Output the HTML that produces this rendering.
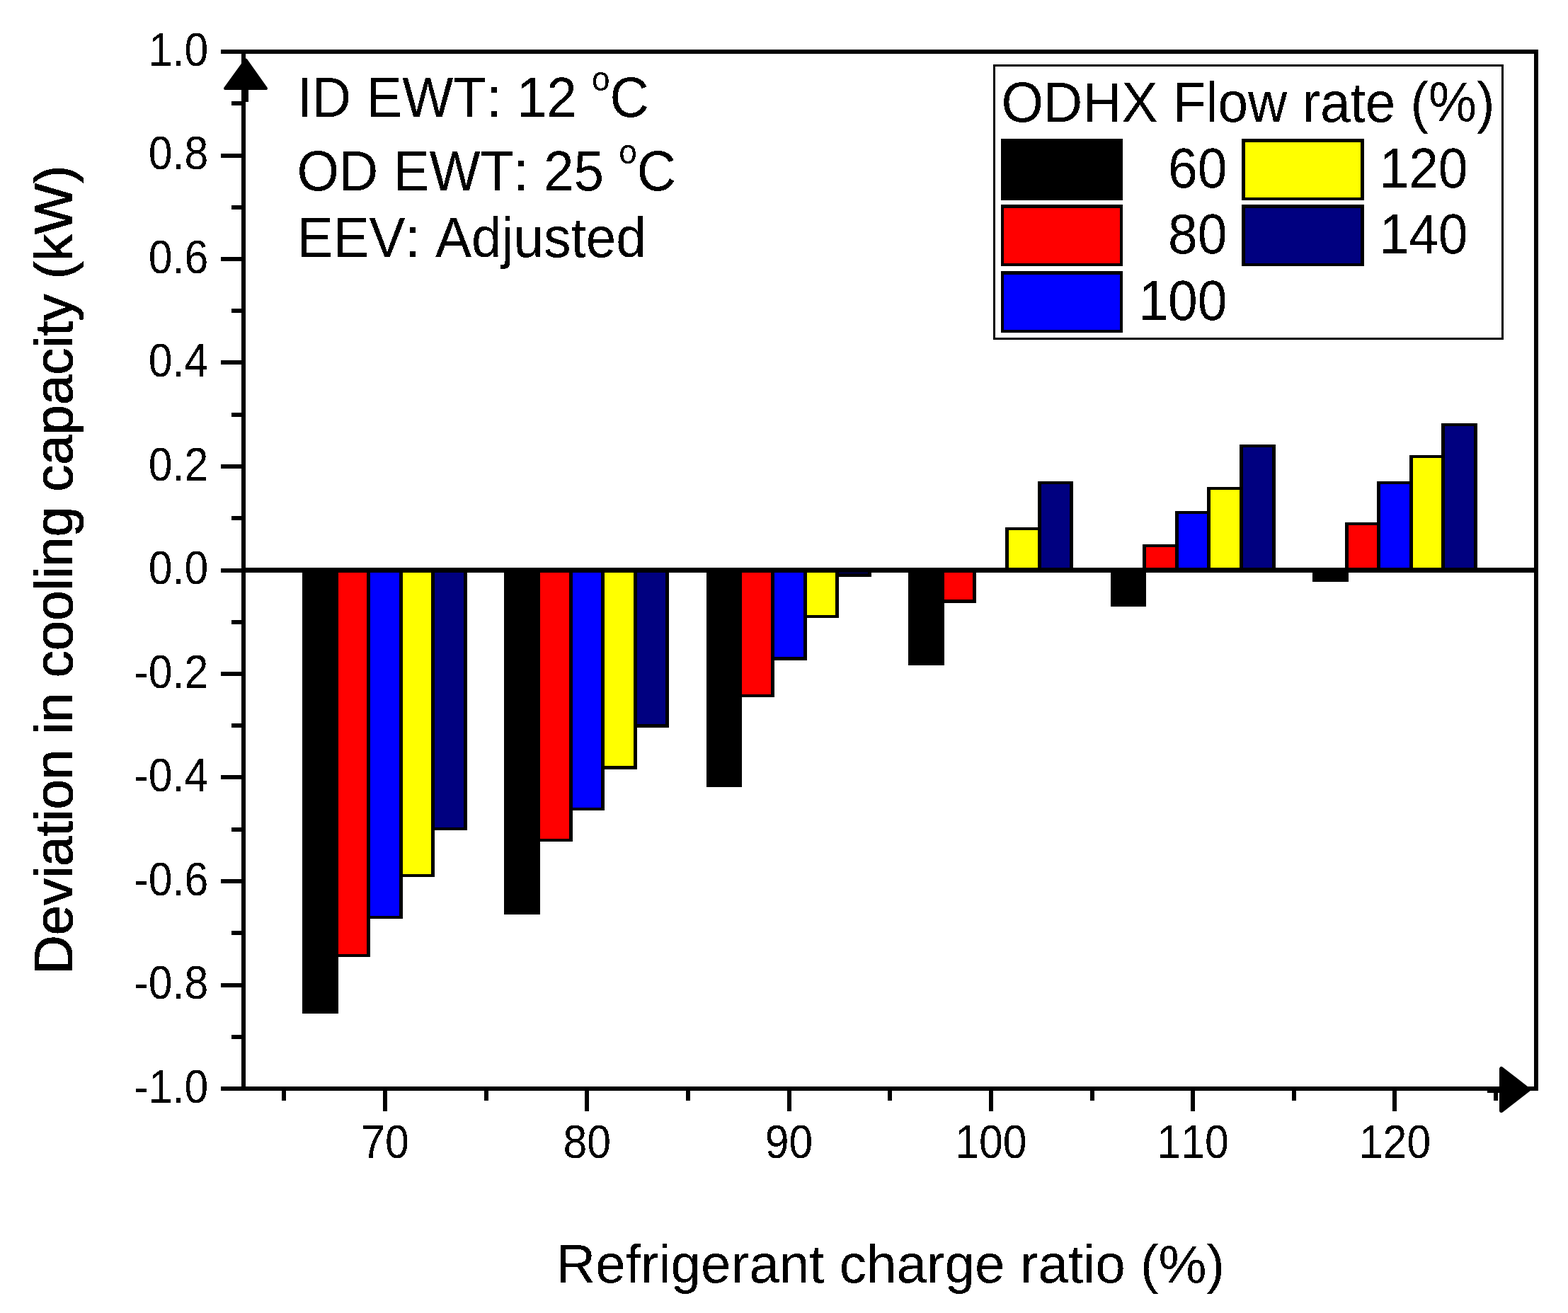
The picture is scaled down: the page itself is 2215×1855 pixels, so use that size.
<!DOCTYPE html>
<html lang="en"><head><meta charset="utf-8"><title>Deviation in cooling capacity vs refrigerant charge ratio</title>
<style>
html,body{margin:0;padding:0;background:#fff;}
body{width:2215px;height:1855px;overflow:hidden;}
svg{display:block;}
text{font-family:"Liberation Sans",Arial,Helvetica,sans-serif;fill:#000;font-kerning:none;font-variant-ligatures:none;white-space:pre;}
.big{font-size:76.5px;}
.tick{font-size:62px;}
.ln{fill:#000;shape-rendering:crispEdges;}
.bar{stroke:#000;stroke-width:5;shape-rendering:crispEdges;}
</style></head><body>
<svg width="2215" height="1855" viewBox="0 0 2215 1855" role="img" aria-label="Bar chart: deviation in cooling capacity versus refrigerant charge ratio">
<rect x="0" y="0" width="2215" height="1855" fill="#ffffff"/>
<defs><filter id="alias" x="-5%" y="-20%" width="110%" height="140%" color-interpolation-filters="sRGB"><feComponentTransfer><feFuncA type="discrete" tableValues="0 1"/></feComponentTransfer></filter></defs>
<g id="bars" shape-rendering="crispEdges">
<rect x="427.0" y="802.0" width="50.6" height="630.0" fill="#000"/>
<rect x="472.6" y="802.0" width="50.6" height="550.0" fill="#000"/>
<rect x="477.6" y="808.5" width="40.6" height="539.1" fill="#ff0000"/>
<rect x="518.2" y="802.0" width="50.6" height="496.0" fill="#000"/>
<rect x="523.2" y="808.5" width="40.6" height="485.1" fill="#0000ff"/>
<rect x="563.8" y="802.0" width="50.6" height="437.0" fill="#000"/>
<rect x="568.8" y="808.5" width="40.6" height="426.1" fill="#ffff00"/>
<rect x="609.4" y="802.0" width="50.6" height="371.0" fill="#000"/>
<rect x="614.4" y="808.5" width="40.6" height="360.1" fill="#000080"/>
<rect x="712.4" y="802.0" width="50.6" height="490.0" fill="#000"/>
<rect x="758.0" y="802.0" width="50.6" height="387.0" fill="#000"/>
<rect x="763.0" y="808.5" width="40.6" height="376.1" fill="#ff0000"/>
<rect x="803.6" y="802.0" width="50.6" height="343.0" fill="#000"/>
<rect x="808.6" y="808.5" width="40.6" height="332.1" fill="#0000ff"/>
<rect x="849.2" y="802.0" width="50.6" height="284.5" fill="#000"/>
<rect x="854.2" y="808.5" width="40.6" height="273.6" fill="#ffff00"/>
<rect x="894.8" y="802.0" width="50.6" height="225.5" fill="#000"/>
<rect x="899.8" y="808.5" width="40.6" height="214.6" fill="#000080"/>
<rect x="997.8" y="802.0" width="50.6" height="310.0" fill="#000"/>
<rect x="1043.4" y="802.0" width="50.6" height="183.0" fill="#000"/>
<rect x="1048.4" y="808.5" width="40.6" height="172.1" fill="#ff0000"/>
<rect x="1089.0" y="802.0" width="50.6" height="130.5" fill="#000"/>
<rect x="1094.0" y="808.5" width="40.6" height="119.6" fill="#0000ff"/>
<rect x="1134.6" y="802.0" width="50.6" height="71.0" fill="#000"/>
<rect x="1139.6" y="808.5" width="40.6" height="60.1" fill="#ffff00"/>
<rect x="1180.2" y="802.0" width="50.6" height="12.5" fill="#000"/>
<rect x="1185.2" y="808.5" width="40.6" height="1.6" fill="#000080"/>
<rect x="1283.2" y="802.0" width="50.6" height="138.0" fill="#000"/>
<rect x="1328.8" y="802.0" width="50.6" height="49.5" fill="#000"/>
<rect x="1333.8" y="808.5" width="40.6" height="38.6" fill="#ff0000"/>
<rect x="1420.0" y="745.0" width="50.6" height="63.5" fill="#000"/>
<rect x="1425.0" y="749.4" width="40.6" height="52.6" fill="#ffff00"/>
<rect x="1465.6" y="680.0" width="50.6" height="128.5" fill="#000"/>
<rect x="1470.6" y="684.4" width="40.6" height="117.6" fill="#000080"/>
<rect x="1568.6" y="802.0" width="50.6" height="54.5" fill="#000"/>
<rect x="1614.2" y="768.5" width="50.6" height="40.0" fill="#000"/>
<rect x="1619.2" y="772.9" width="40.6" height="29.1" fill="#ff0000"/>
<rect x="1659.8" y="721.5" width="50.6" height="87.0" fill="#000"/>
<rect x="1664.8" y="725.9" width="40.6" height="76.1" fill="#0000ff"/>
<rect x="1705.4" y="687.5" width="50.6" height="121.0" fill="#000"/>
<rect x="1710.4" y="691.9" width="40.6" height="110.1" fill="#ffff00"/>
<rect x="1751.0" y="628.0" width="50.6" height="180.5" fill="#000"/>
<rect x="1756.0" y="632.4" width="40.6" height="169.6" fill="#000080"/>
<rect x="1854.0" y="802.0" width="50.6" height="19.5" fill="#000"/>
<rect x="1899.6" y="738.0" width="50.6" height="70.5" fill="#000"/>
<rect x="1904.6" y="742.4" width="40.6" height="59.6" fill="#ff0000"/>
<rect x="1945.2" y="679.5" width="50.6" height="129.0" fill="#000"/>
<rect x="1950.2" y="683.9" width="40.6" height="118.1" fill="#0000ff"/>
<rect x="1990.8" y="642.5" width="50.6" height="166.0" fill="#000"/>
<rect x="1995.8" y="646.9" width="40.6" height="155.1" fill="#ffff00"/>
<rect x="2036.4" y="598.0" width="50.6" height="210.5" fill="#000"/>
<rect x="2041.4" y="602.4" width="40.6" height="199.6" fill="#000080"/>
</g>
<g id="axes">
<rect class="ln" x="312" y="70" width="1861" height="6"/>
<rect class="ln" x="312" y="1535" width="1861" height="6"/>
<rect class="ln" x="341" y="70" width="6" height="1471"/>
<rect class="ln" x="2167" y="70" width="6" height="1471"/>
<rect class="ln" x="344" y="802" width="1826" height="6.5"/>
<rect class="ln" x="312" y="217" width="32" height="6"/>
<rect class="ln" x="312" y="363" width="32" height="6"/>
<rect class="ln" x="312" y="509" width="32" height="6"/>
<rect class="ln" x="312" y="656" width="32" height="6"/>
<rect class="ln" x="312" y="803" width="32" height="6"/>
<rect class="ln" x="312" y="949" width="32" height="6"/>
<rect class="ln" x="312" y="1095" width="32" height="6"/>
<rect class="ln" x="312" y="1242" width="32" height="6"/>
<rect class="ln" x="312" y="1389" width="32" height="6"/>
<rect class="ln" x="327" y="143" width="17" height="6"/>
<rect class="ln" x="327" y="290" width="17" height="6"/>
<rect class="ln" x="327" y="436" width="17" height="6"/>
<rect class="ln" x="327" y="583" width="17" height="6"/>
<rect class="ln" x="327" y="729" width="17" height="6"/>
<rect class="ln" x="327" y="876" width="17" height="6"/>
<rect class="ln" x="327" y="1022" width="17" height="6"/>
<rect class="ln" x="327" y="1169" width="17" height="6"/>
<rect class="ln" x="327" y="1315" width="17" height="6"/>
<rect class="ln" x="327" y="1462" width="17" height="6"/>
<rect class="ln" x="541" y="1538" width="6" height="32"/>
<rect class="ln" x="826" y="1538" width="6" height="32"/>
<rect class="ln" x="1112" y="1538" width="6" height="32"/>
<rect class="ln" x="1397" y="1538" width="6" height="32"/>
<rect class="ln" x="1682" y="1538" width="6" height="32"/>
<rect class="ln" x="1967" y="1538" width="6" height="32"/>
<rect class="ln" x="398" y="1538" width="6" height="17"/>
<rect class="ln" x="684" y="1538" width="6" height="17"/>
<rect class="ln" x="969" y="1538" width="6" height="17"/>
<rect class="ln" x="1254" y="1538" width="6" height="17"/>
<rect class="ln" x="1540" y="1538" width="6" height="17"/>
<rect class="ln" x="1825" y="1538" width="6" height="17"/>
<rect class="ln" x="2110" y="1538" width="6" height="17"/>
</g>
<g id="arrows" fill="#000" stroke="#000" stroke-linejoin="round">
<rect x="341" y="110" width="10" height="34" stroke="none"/>
<path d="M347.3 84.5 L376 125 L318 125 Z" stroke-width="4"/>
<rect x="2101" y="1535" width="17" height="9" stroke="none"/>
<path d="M2159 1539.5 L2121 1510 L2121 1569 Z" stroke-width="6"/>
</g>
<g id="ylabels">
<text class="tick" transform="translate(294.3 92.5) scale(0.98 1.07)" text-anchor="end" filter="url(#alias)">1.0</text>
<text class="tick" transform="translate(294.3 239) scale(0.98 1.07)" text-anchor="end" filter="url(#alias)">0.8</text>
<text class="tick" transform="translate(294.3 385.5) scale(0.98 1.07)" text-anchor="end" filter="url(#alias)">0.6</text>
<text class="tick" transform="translate(294.3 532) scale(0.98 1.07)" text-anchor="end" filter="url(#alias)">0.4</text>
<text class="tick" transform="translate(294.3 678.5) scale(0.98 1.07)" text-anchor="end" filter="url(#alias)">0.2</text>
<text class="tick" transform="translate(294.3 825) scale(0.98 1.07)" text-anchor="end" filter="url(#alias)">0.0</text>
<text class="tick" transform="translate(294.3 971.5) scale(0.98 1.07)" text-anchor="end" filter="url(#alias)">-0.2</text>
<text class="tick" transform="translate(294.3 1118) scale(0.98 1.07)" text-anchor="end" filter="url(#alias)">-0.4</text>
<text class="tick" transform="translate(294.3 1264.5) scale(0.98 1.07)" text-anchor="end" filter="url(#alias)">-0.6</text>
<text class="tick" transform="translate(294.3 1411) scale(0.98 1.07)" text-anchor="end" filter="url(#alias)">-0.8</text>
<text class="tick" transform="translate(294.3 1557.5) scale(0.98 1.07)" text-anchor="end" filter="url(#alias)">-1.0</text>
</g>
<g id="xlabels">
<text class="tick" transform="translate(544 1635.5) scale(0.98 1.07)" text-anchor="middle" filter="url(#alias)">70</text>
<text class="tick" transform="translate(829.3 1635.5) scale(0.98 1.07)" text-anchor="middle" filter="url(#alias)">80</text>
<text class="tick" transform="translate(1114.6 1635.5) scale(0.98 1.07)" text-anchor="middle" filter="url(#alias)">90</text>
<text class="tick" transform="translate(1399.9 1635.5) scale(0.98 1.07)" text-anchor="middle" filter="url(#alias)">100</text>
<text class="tick" transform="translate(1685.2 1635.5) scale(0.98 1.07)" text-anchor="middle" filter="url(#alias)">110</text>
<text class="tick" transform="translate(1970.5 1635.5) scale(0.98 1.07)" text-anchor="middle" filter="url(#alias)">120</text>
</g>
<text class="big" transform="translate(1258 1812)" text-anchor="middle" filter="url(#alias)">Refrigerant charge ratio (%)</text>
<text class="big" transform="translate(102 805) rotate(-90) scale(0.9955 1)" text-anchor="middle" filter="url(#alias)" stroke="#000" stroke-width="1.1" stroke-linejoin="round">Deviation in cooling capacity (kW)</text>
<g id="notes">
<text class="big" transform="translate(419.5 165) scale(1 1.04)" text-anchor="start" filter="url(#alias)">ID EWT: 12 <tspan font-size="46" dy="-36.0577">o</tspan><tspan dy="36.0577">C</tspan></text>
<text class="big" transform="translate(419.5 268.5) scale(1 1.04)" text-anchor="start" filter="url(#alias)">OD EWT: 25 <tspan font-size="46" dy="-36.0577">o</tspan><tspan dy="36.0577">C</tspan></text>
<text class="big" transform="translate(419.5 363) scale(1 1.04)" text-anchor="start" filter="url(#alias)">EEV: Adjusted</text>
</g>
<g id="legend">
<rect x="1404.5" y="92.5" width="718" height="386" fill="#fff" stroke="#000" stroke-width="3" shape-rendering="crispEdges"/>
<text class="big" transform="translate(1414.5 172) scale(1 1.04)" text-anchor="start" filter="url(#alias)">ODHX Flow rate (%)</text>
<rect x="1414" y="196" width="172" height="87" fill="#000" shape-rendering="crispEdges"/>
<rect x="1418" y="201" width="164" height="78" fill="#000000" shape-rendering="crispEdges"/>
<text class="big" transform="translate(1733.5 264.8) scale(0.98 1.04)" text-anchor="end" filter="url(#alias)">60</text>
<rect x="1414" y="289" width="172" height="87" fill="#000" shape-rendering="crispEdges"/>
<rect x="1418" y="294" width="164" height="78" fill="#ff0000" shape-rendering="crispEdges"/>
<text class="big" transform="translate(1733.5 357.8) scale(0.98 1.04)" text-anchor="end" filter="url(#alias)">80</text>
<rect x="1414" y="383" width="172" height="87" fill="#000" shape-rendering="crispEdges"/>
<rect x="1418" y="388" width="164" height="78" fill="#0000ff" shape-rendering="crispEdges"/>
<text class="big" transform="translate(1733.5 451.8) scale(0.98 1.04)" text-anchor="end" filter="url(#alias)">100</text>
<rect x="1754" y="196" width="173" height="87" fill="#000" shape-rendering="crispEdges"/>
<rect x="1759" y="201" width="163" height="78" fill="#ffff00" shape-rendering="crispEdges"/>
<text class="big" transform="translate(1948.5 264.8) scale(0.98 1.04)" text-anchor="start" filter="url(#alias)">120</text>
<rect x="1754" y="289" width="173" height="87" fill="#000" shape-rendering="crispEdges"/>
<rect x="1759" y="294" width="163" height="78" fill="#000080" shape-rendering="crispEdges"/>
<text class="big" transform="translate(1948.5 357.8) scale(0.98 1.04)" text-anchor="start" filter="url(#alias)">140</text>
</g>
</svg>
</body></html>
